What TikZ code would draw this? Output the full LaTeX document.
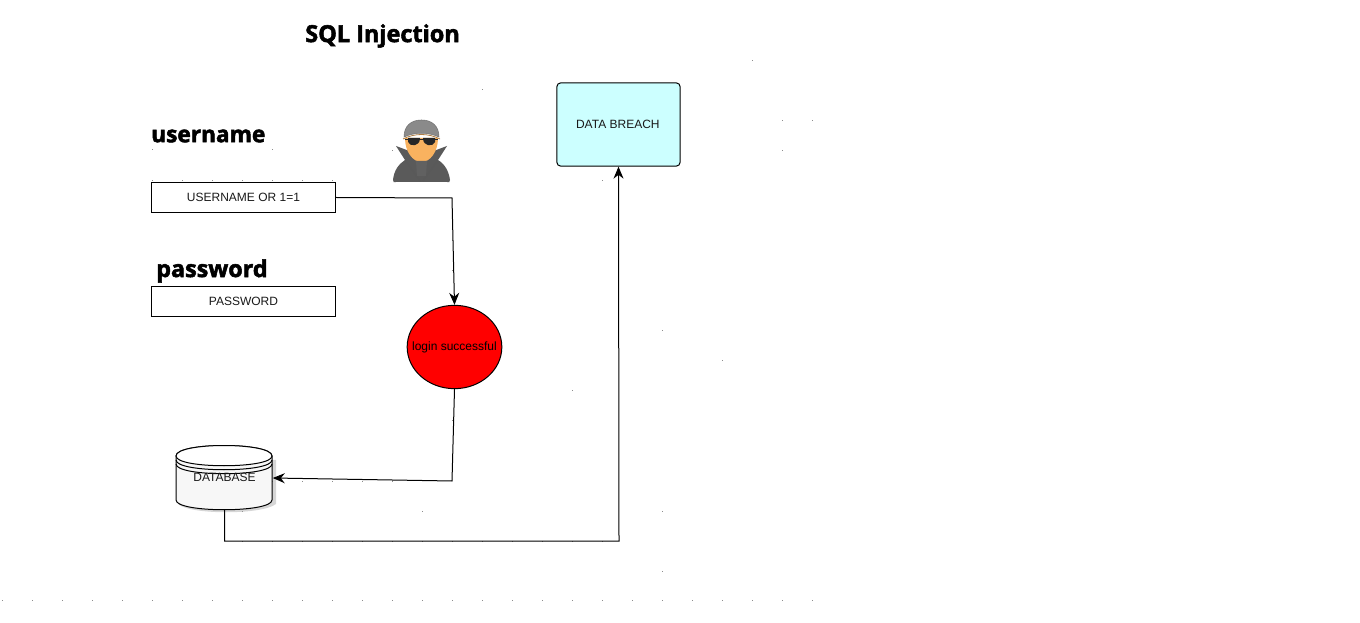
\documentclass[tikz,border=0pt]{standalone}
\usepackage{fontspec}
\setmainfont{Liberation Sans}
\newfontfamily\hdfont[FakeBold=2.2]{Open Sans Bold}
\usetikzlibrary{arrows.meta,shapes.geometric}
\definecolor{breach}{HTML}{CCFFFF}
\definecolor{dbfill}{HTML}{F7F7F7}
\definecolor{coat}{HTML}{5A5A5A}
\definecolor{hat}{HTML}{8A8A8A}
\definecolor{skin}{HTML}{F9B25F}
\tikzset{
  every node/.style={font=\fontsize{9}{11}\selectfont, text=black!90},
  field/.style={draw=black, line width=0.75pt, fill=white, minimum width=138pt, minimum height=22.5pt, inner sep=0pt, text depth=-0.6pt},
  head/.style={font=\hdfont\fontsize{17}{20}\selectfont, text=black, inner sep=0pt},
  conn/.style={draw=black, line width=0.75pt, -{Stealth[length=9pt,width=7.5pt]}},
  speck/.style={fill=black!45, draw=none},
}
\newcommand{\speckat}[2]{\fill[speck] (#1-0.5,#2-0.5) rectangle (#1+0.5,#2+0.5);}
\begin{document}
\begin{tikzpicture}[x=0.75pt,y=-0.75pt]
\useasboundingbox (0,0) rectangle (1360,623);
\fill[white] (0,0) rectangle (1360,623);
% grid specks
\foreach \k in {0,...,27}{\speckat{2+30*\k}{600}}
\foreach \k in {0,...,12}{\speckat{242+30*\k}{541}}
\foreach \k in {0,...,6}{\speckat{152+30*\k}{181}}
\foreach \k in {0,...,5}{\speckat{242+30*\k}{481}}
\foreach \x/\y in {152/150,272/150,632/0,752/61,482/90,782/121,812/121,782/151,602/181,452/211,452/241,452/271,662/331,722/361,572/391,452/421,422/511,662/511,662/571,242/511,392/151}{\speckat{\x}{\y}}
% title and labels
\node[head,anchor=west,font=\hdfont\fontsize{17.6}{21}\selectfont] (title) at (305,36) {SQL Injection};
\node[head,anchor=west] (ulabel) at (151,136) {username};
\node[head,anchor=west,font=\hdfont\fontsize{17.5}{21}\selectfont] (plabel) at (156,271) {password};
% fields
\node[field] (user) at (243.5,197.5) {USERNAME OR 1=1};
\node[field] (pass) at (243.5,301.5) {PASSWORD};
% login
\node[draw=black,line width=0.75pt,fill=red,ellipse,minimum width=71pt,minimum height=62.5pt,inner sep=0pt] (login) at (454.5,347) {\makebox[0pt]{\raisebox{-0.7pt}{\textcolor{black}{login successful}}}};
% breach
\node[draw=black,line width=0.75pt,fill=breach,rounded corners=3pt,minimum width=92.5pt,minimum height=62.5pt,inner sep=0pt] (breach) at (618.5,124.5) {\raisebox{-0.7pt}{\kern-1pt DATA BREACH}};
% database
\fill[black!35,opacity=0.45] (178,456) -- (178,504) .. controls (190,515) and (262,515) .. (276,504) -- (276,460) -- cycle;
\draw[line width=0.75pt,fill=dbfill] (176,456) -- (176,500) .. controls (176,513) and (272,513) .. (272,500) -- (272,456) .. controls (272,442) and (176,442) .. (176,456) -- cycle;
\draw[line width=0.75pt,fill=white] (176,456) .. controls (176,442) and (272,442) .. (272,456) .. controls (272,469) and (176,469) .. (176,456) -- cycle;
\draw[line width=0.75pt] (176,460) .. controls (176,473) and (272,473) .. (272,460);
\draw[line width=0.75pt] (176,464) .. controls (176,477) and (272,477) .. (272,464);
\node[minimum width=72pt,minimum height=47pt,inner sep=0pt] (db) at (224.5,478) {\raisebox{0.7pt}{DATABASE}};
% spy
\begin{scope}
\fill[coat] (393,180) .. controls (394,170) and (399,164) .. (405,160) -- (396,146) -- (412,152) -- (431,152) -- (447,146) -- (438,160) .. controls (445,164) and (449,172) .. (450,180) .. controls (450,183) and (449,182) .. (447,182) -- (396,182) .. controls (394,182) and (393,183) .. (393,180) -- cycle;
\fill[skin] (405,138) .. controls (405,152) and (413,162) .. (421.5,162) .. controls (430,162) and (438,152) .. (438,138) -- cycle;
\fill[hat!70!black] (416,161) -- (427,161) -- (426,176) -- (417,176) -- cycle;
\draw[black!65,line width=0.6pt] (405,160) -- (420,181) (438,160) -- (423,181);
\fill[hat,draw=black!55,line width=0.4pt] (404,137) .. controls (404,126) and (411,120) .. (421.5,120) .. controls (432,120) and (439,126) .. (439,137) .. controls (428,132) and (415,132) .. (404,137) -- cycle;
\draw[skin!70!black,line width=0.6pt] (403,139) .. controls (415,133) and (428,133) .. (440,139);
\fill[black!85] (408,138) -- (420,138) .. controls (420,147) and (410,147) .. (408,142) -- cycle;
\fill[black!85] (423,138) -- (435,138) -- (435,142) .. controls (433,147) and (423,147) .. (423,138) -- cycle;
\draw[black!85,line width=0.7pt] (405,139) -- (438,139);
\end{scope}
% connectors
\coordinate (c1) at (452,198);
\coordinate (c2) at (452,481);
\coordinate (c3) at (224.5,541);
\coordinate (c4) at (619,541);
\draw[conn] (user.east) -- (c1) -- (login.north);
\draw[conn] (login.south) -- (c2) -- (db.east);
\draw[conn] (224.5,509) -- (c3) -- (c4) -- (breach.south);
\end{tikzpicture}
\end{document}
